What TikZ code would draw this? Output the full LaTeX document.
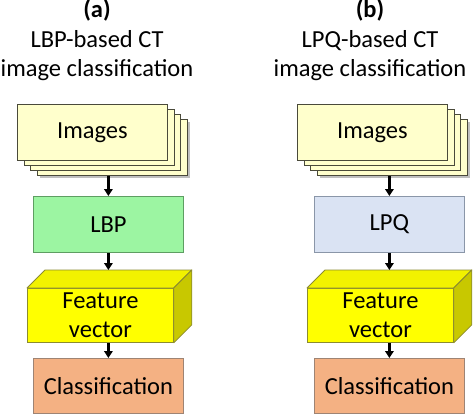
\documentclass[tikz,border=0pt]{standalone}
\usepackage{fontspec}
\setmainfont{Carlito}
\usetikzlibrary{arrows.meta}
\definecolor{imgfill}{HTML}{FFFFCC}
\definecolor{imgline}{HTML}{4A4A3A}
\definecolor{lbpfill}{HTML}{9CF5A2}
\definecolor{lbpline}{HTML}{5E9E62}
\definecolor{lpqfill}{HTML}{DAE3F3}
\definecolor{lpqline}{HTML}{8A96A8}
\definecolor{fvfront}{HTML}{FFFF00}
\definecolor{fvtop}{HTML}{F2F200}
\definecolor{fvside}{HTML}{C8C800}
\definecolor{fvline}{HTML}{8C8C30}
\definecolor{clsfill}{HTML}{F4B183}
\definecolor{clsline}{HTML}{9E8474}
\begin{document}
\begin{tikzpicture}[x=1pt,y=-1pt,
  txt/.style={font=\fontsize{24.5}{29}\selectfont},
  ttl/.style={txt, anchor=base, inner sep=0pt},
  box/.style={txt, draw, line width=0.8pt, minimum width=150pt, minimum height=56pt,
              inner sep=0pt, anchor=north west, align=center},
  imgbox/.style={box, fill=imgfill, draw=imgline},
  lbpbox/.style={box, fill=lbpfill, draw=lbpline},
  lpqbox/.style={box, fill=lpqfill, draw=lpqline},
  fvbox/.style={box, fill=fvfront, draw=fvline, minimum width=146pt, minimum height=54pt},
  fvface/.style={draw=fvline, line width=0.8pt, line join=round},
  clsbox/.style={box, fill=clsfill, draw=clsline, minimum height=55pt},
  arr/.style={line width=2.2pt, -{Triangle[length=7pt,width=8.5pt]}}
]
\useasboundingbox (0,0) rectangle (474,417);

% ---------- titles ----------
\node[ttl, font=\fontsize{24.5}{29}\selectfont\bfseries] (tA0) at (97,18) {(a)};
\node[ttl] (tA1) at (97,48) {LBP-based CT};
\node[ttl] (tA2) at (97,77) {image classification};
\node[ttl, font=\fontsize{24.5}{29}\selectfont\bfseries] (tB0) at (370,18) {(b)};
\node[ttl] (tB1) at (370,48) {LPQ-based CT};
\node[ttl] (tB2) at (370,77) {image classification};

% ---------- column (a) ----------
\node[imgbox, fill=black!25, draw=none] (shA) at (40,122) {};
\node[imgbox] (imgA3) at (36.5,119) {};
\node[imgbox] (imgA2) at (30,114) {};
\node[imgbox] (imgA1) at (23.5,109) {};
\node[imgbox] (imgA) at (17,104) {Images};

\node[lbpbox] (lbpA) at (33,196) {LBP};

\node[fvbox] (fvA) at (27,288) {Feature\\vector};
\filldraw[fvface, fill=fvtop] (fvA.north west) -- ([shift={(18,-18)}]fvA.north west)
   -- ([shift={(18,-18)}]fvA.north east) -- (fvA.north east) -- cycle;
\filldraw[fvface, fill=fvside] (fvA.north east) -- ([shift={(18,-18)}]fvA.north east)
   -- ([shift={(18,-18)}]fvA.south east) -- (fvA.south east) -- cycle;
\coordinate (fvAback) at ([shift={(18,-18)}]fvA.north west);

\node[clsbox] (clsA) at (33,358) {Classification};

\draw[arr] (lbpA.north |- imgA3.south) -- (lbpA.north);
\draw[arr] (lbpA.south) -- (lbpA.south |- fvAback);
\draw[arr] (clsA.north |- fvA.south) -- (clsA.north);

% ---------- column (b) ----------
\node[imgbox, fill=black!25, draw=none] (shB) at (320,122) {};
\node[imgbox] (imgB3) at (316.5,119) {};
\node[imgbox] (imgB2) at (310,114) {};
\node[imgbox] (imgB1) at (303.5,109) {};
\node[imgbox] (imgB) at (297,104) {Images};

\node[lpqbox] (lpqB) at (314,196) {LPQ};

\node[fvbox] (fvB) at (307,288) {Feature\\vector};
\filldraw[fvface, fill=fvtop] (fvB.north west) -- ([shift={(18,-18)}]fvB.north west)
   -- ([shift={(18,-18)}]fvB.north east) -- (fvB.north east) -- cycle;
\filldraw[fvface, fill=fvside] (fvB.north east) -- ([shift={(18,-18)}]fvB.north east)
   -- ([shift={(18,-18)}]fvB.south east) -- (fvB.south east) -- cycle;
\coordinate (fvBback) at ([shift={(18,-18)}]fvB.north west);

\node[clsbox] (clsB) at (314,358) {Classification};

\draw[arr] (lpqB.north |- imgB3.south) -- (lpqB.north);
\draw[arr] (lpqB.south) -- (lpqB.south |- fvBback);
\draw[arr] (clsB.north |- fvB.south) -- (clsB.north);
\end{tikzpicture}
\end{document}
